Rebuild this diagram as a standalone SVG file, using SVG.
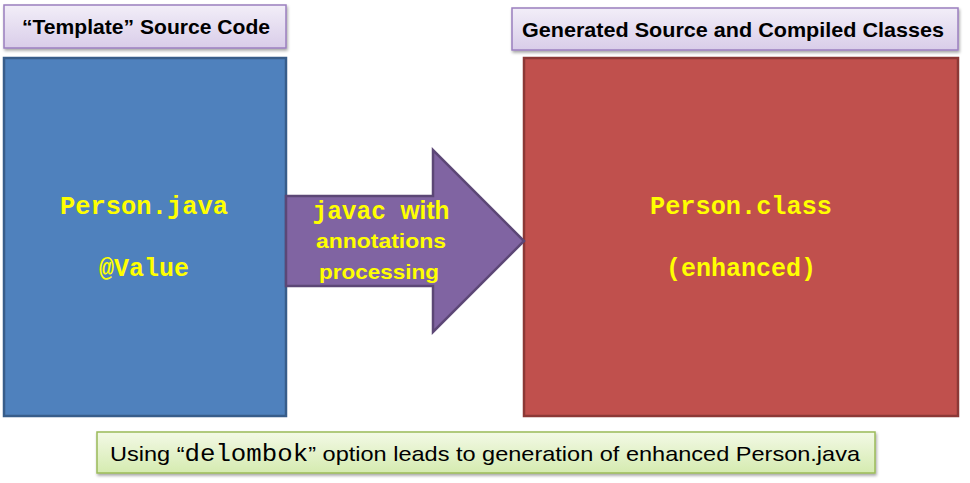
<svg xmlns="http://www.w3.org/2000/svg" width="970" height="483" viewBox="0 0 970 483">
<defs>
<linearGradient id="lav" x1="0" y1="0" x2="0" y2="1"><stop offset="0" stop-color="#f2eef8"/><stop offset="1" stop-color="#d9cde9"/></linearGradient>
<linearGradient id="grn" x1="0" y1="0" x2="0" y2="1"><stop offset="0" stop-color="#f3f9e6"/><stop offset="1" stop-color="#d5ebb0"/></linearGradient>
<filter id="sh" x="-5%" y="-5%" width="110%" height="120%"><feDropShadow dx="1" dy="2" stdDeviation="1.5" flood-opacity="0.35"/></filter>
</defs>
<style>
.t{font-family:"Liberation Sans",Arial,sans-serif;font-weight:bold;font-size:21px;fill:#000}
.m{font-family:"Liberation Mono","Courier New",monospace;font-weight:bold;font-size:25px;fill:#ffff00;text-anchor:middle}
.a{font-family:"Liberation Sans",Arial,sans-serif;font-weight:bold;font-size:21px;fill:#ffff00;text-anchor:middle}
</style>
<rect width="970" height="483" fill="#fff"/>
<g id="title-left"><rect x="4" y="5" width="282" height="43" fill="url(#lav)" stroke="#9b7fbf" stroke-width="1.5" filter="url(#sh)"/><text class="t" x="146" y="34" text-anchor="middle" textLength="248" lengthAdjust="spacingAndGlyphs">“Template” Source Code</text></g>
<g id="title-right"><rect x="512" y="8" width="446" height="42" fill="url(#lav)" stroke="#9b7fbf" stroke-width="1.5" filter="url(#sh)"/><text class="t" x="733" y="37" text-anchor="middle" textLength="422" lengthAdjust="spacingAndGlyphs">Generated Source and Compiled Classes</text></g>
<g id="source"><rect x="4" y="58" width="282" height="358" fill="#4f81bd" stroke="#385d8a" stroke-width="2.5"/><text class="m" x="144" y="214" textLength="168" lengthAdjust="spacingAndGlyphs">Person.java</text><text class="m" x="144" y="276">@Value</text></g>
<g id="output"><rect x="524" y="58" width="434" height="358" fill="#c0504d" stroke="#8c3836" stroke-width="2.5"/><text class="m" x="741" y="214" textLength="182" lengthAdjust="spacingAndGlyphs">Person.class</text><text class="m" x="741" y="276">(enhanced)</text></g>
<g id="connectors"><g id="arrow"><polygon points="286,196 433,196 433,150 524,241 433,332 433,286 286,286" fill="#8064a2" stroke="#5c4776" stroke-width="2.5"/><text class="m" x="381" y="219" font-size="23" textLength="137" lengthAdjust="spacingAndGlyphs">javac <tspan font-family="Liberation Sans,Arial,sans-serif">with</tspan></text><text class="a" x="381" y="248" textLength="130" lengthAdjust="spacingAndGlyphs">annotations</text><text class="a" x="379" y="279" textLength="120" lengthAdjust="spacingAndGlyphs">processing</text></g></g>
<g id="note"><rect x="97" y="432" width="778" height="41" fill="url(#grn)" stroke="#9bbb59" stroke-width="1.5" filter="url(#sh)"/><text x="485" y="461" text-anchor="middle" font-family="Liberation Sans,Arial,sans-serif" font-size="21" textLength="750" lengthAdjust="spacingAndGlyphs">Using “<tspan font-family="Liberation Mono,monospace" font-size="23">delombok</tspan>” option leads to generation of enhanced Person.java</text></g>
</svg>
